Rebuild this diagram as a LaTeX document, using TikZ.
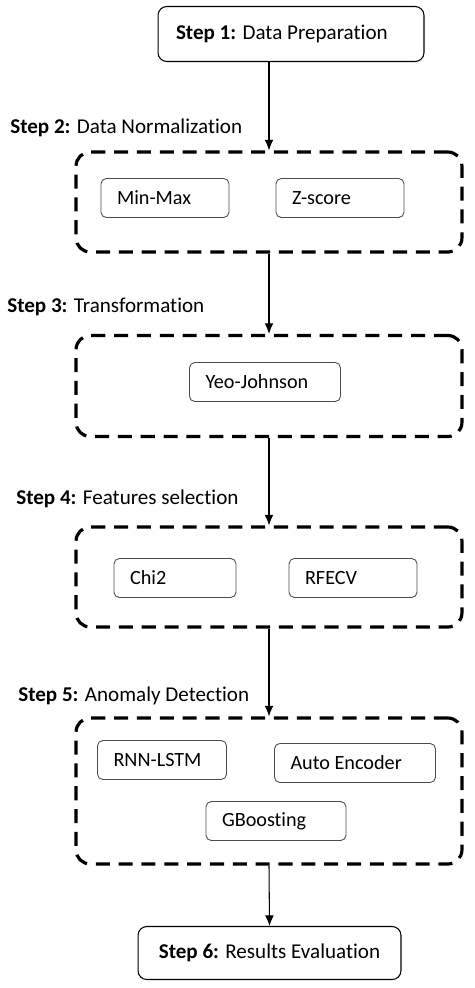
\documentclass[tikz,border=0pt]{standalone}
\usepackage{fontspec}
\setmainfont{Carlito}[Ligatures=NoCommon]
\usepackage{tikz}
\usetikzlibrary{arrows.meta}

\begin{document}
\begin{tikzpicture}[x=0.02cm, y=-0.02cm,
  stepbox/.style={draw, rounded corners=5pt, line width=0.6pt, font=\fontsize{12}{14}\selectfont},
  algobox/.style={draw=black!70, rounded corners=3pt, line width=0.5pt, minimum height=0.78cm, inner xsep=0.32cm, align=flush left, font=\fontsize{11.5}{13}\selectfont},
  groupbox/.style={draw, line width=1.8pt, dash pattern=on 8pt off 5pt, rounded corners=8pt, minimum width=7.72cm},
  steplabel/.style={anchor=west, inner sep=0pt, font=\fontsize{12}{14}\selectfont},
  arr/.style={-{Latex[length=6pt,width=5pt]}, line width=0.6pt}]
\useasboundingbox (0,0) rectangle (474,988);

\node[stepbox, minimum height=1.1cm, text width=4.6cm, inner xsep=0.36cm, align=flush left] (prep) at (291,34) {\textbf{Step 1:} Data Preparation};

\node[steplabel] (lnorm) at (10,128) {\textbf{Step 2:} Data Normalization};
\node[groupbox, minimum height=2cm] (norm) at (269,202) {};
\node[algobox, text width=1.92cm] (minmax) at (165,198) {Min-Max};
\node[algobox, text width=1.92cm] (zscore) at (340,198) {Z-score};

\node[steplabel] (ltrans) at (7,307) {\textbf{Step 3:} Transformation};
\node[groupbox, minimum height=2.02cm] (trans) at (269,386) {};
\node[algobox, text width=2.38cm] (yeo) at (265,382) {Yeo-Johnson};

\node[steplabel] (lfeat) at (16,499) {\textbf{Step 4:} Features selection};
\node[groupbox, minimum height=2cm] (feat) at (269,577) {};
\node[algobox, text width=1.8cm] (chi) at (175,578) {Chi2};
\node[algobox, text width=1.92cm] (rfecv) at (353,578) {RFECV};

\node[steplabel] (ldetect) at (18,696) {\textbf{Step 5:} Anomaly Detection};
\node[groupbox, minimum height=2.92cm] (detect) at (269,791) {};
\node[algobox, text width=1.94cm] (rnn) at (162,760) {RNN-LSTM};
\node[algobox, text width=2.58cm] (auto) at (355,763) {Auto Encoder};
\node[algobox, text width=2.16cm] (gb) at (276,821) {GBoosting};

\node[stepbox, minimum width=5.26cm, minimum height=1.06cm] (eval) at (269.5,953) {\textbf{Step 6:} Results Evaluation};

% arrows between the steps
\draw[arr] (norm.north |- prep.south) -- (norm.north);
\draw[arr] (norm.south) -- (trans.north);
\draw[arr] (trans.south) -- (feat.north);
\draw[arr] (feat.south) -- (detect.north);
\draw[arr] (detect.south) -- (eval.north);
\end{tikzpicture}
\end{document}
